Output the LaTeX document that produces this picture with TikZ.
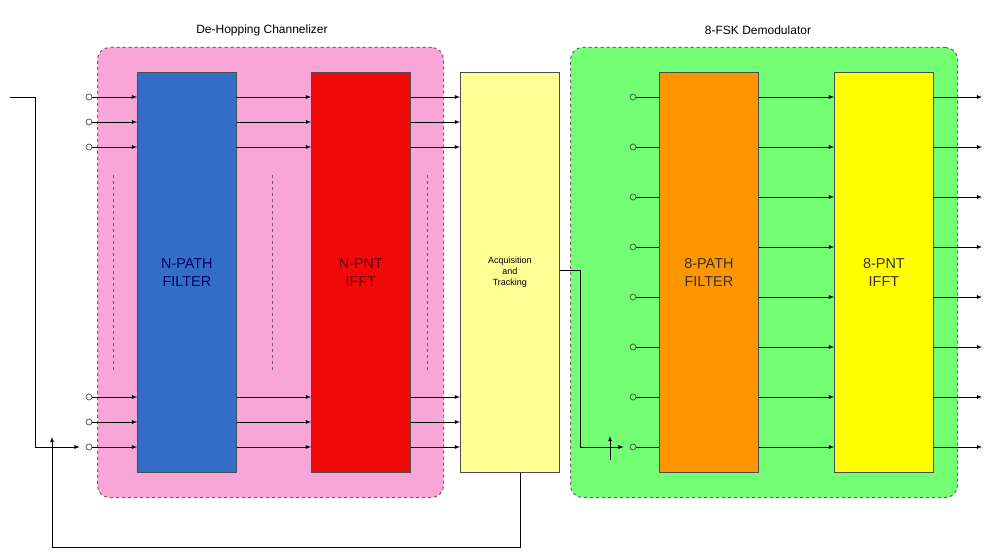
\documentclass[tikz,border=0pt]{standalone}
\usepackage{fontspec}
\setmainfont{Liberation Sans}
\begin{document}
\begin{tikzpicture}[x=1pt,y=-1pt,
  blk/.style={draw=black!70,line width=0.8pt,minimum width=99pt,minimum height=400pt,anchor=north west,inner sep=0pt},
  grp/.style={draw=black!60,dashed,line width=1pt,rounded corners=12pt,anchor=north west,inner sep=0pt},
  arr/.style={-latex,line width=0.8pt},
  ln/.style={line width=0.8pt},
  pin/.style={circle,draw=black!70,line width=0.7pt,minimum size=6pt,inner sep=0pt,fill=none},
  ttl/.style={font=\large}]
\useasboundingbox (0,0) rectangle (1004,553);
\node[grp,fill=magenta!35,minimum width=346pt,minimum height=450pt] (g1) at (97,47) {};
\node[grp,fill=green!55!white,minimum width=387pt,minimum height=450pt] (g2) at (570,47) {};
\node[ttl] (t1) at (262,30) {De-Hopping Channelizer};
\node[ttl] (t2) at (758,30) {8-FSK Demodulator};
\node[blk,fill={rgb,255:red,50;green,110;blue,200}] (nf) at (137,72) {};
\node[font=\Large,text=blue!40!black,align=center] (nft) at (nf.center) {N-PATH\\FILTER};
\node[blk,fill={rgb,255:red,240;green,10;blue,10}] (ni) at (311,72) {};
\node[font=\Large,text=red!40!black,align=center] (nit) at (ni.center) {N-PNT\\IFFT};
\node[blk,fill={rgb,255:red,255;green,255;blue,150}] (aq) at (460,72) {};
\node[font=\small,align=center] (aqt) at (aq.center) {Acquisition\\and\\Tracking};
\node[blk,fill={rgb,255:red,255;green,150;blue,0}] (of) at (659,72) {};
\node[font=\Large,text=black!80,align=center] (oft) at (of.center) {8-PATH\\FILTER};
\node[blk,fill={rgb,255:red,255;green,255;blue,0}] (yi) at (834,72) {};
\node[font=\Large,text=black!80,align=center] (yit) at (yi.center) {8-PNT\\IFFT};
\foreach \y [count=\i] in {97,122,147,397,422,447}{
  \node[pin] (p\i) at (89,\y) {};
  \draw[arr] (p\i) -- (nf.west |- p\i);
  \draw[arr] (nf.east |- p\i) -- (ni.west |- p\i);
  \draw[arr] (ni.east |- p\i) -- (aq.west |- p\i);
}
\foreach \x in {113,272,427}{\draw[dashed,black!60,line width=0.8pt] (\x,175) -- (\x,370);}
\coordinate (in) at (10,97);
\draw[arr] (in) -- (35,97) -- (35,447) -- ([xshift=-6pt]p6.west);
\coordinate (fb) at (52,437);
\draw[arr] (aq.south -| 520,0) -- (520,547) -- (52,547) -- (fb);
\coordinate (ao) at (aq.east |- 0,270);
\foreach \y [count=\i] in {97,147,197,247,297,347,397,447}{
  \node[pin] (q\i) at (633,\y) {};
  \draw[ln] (q\i) -- (of.west |- q\i);
  \draw[arr] (of.east |- q\i) -- (yi.west |- q\i);
  \coordinate (o\i) at (982,\y);
  \draw[arr] (yi.east |- q\i) -- (o\i);
}
\draw[arr] (ao) -- (580,270) -- (580,447) -- ([xshift=-6pt]q8.west);
\coordinate (sw) at (610,436);
\draw[arr] (610,460) -- (sw);
\end{tikzpicture}
\end{document}
